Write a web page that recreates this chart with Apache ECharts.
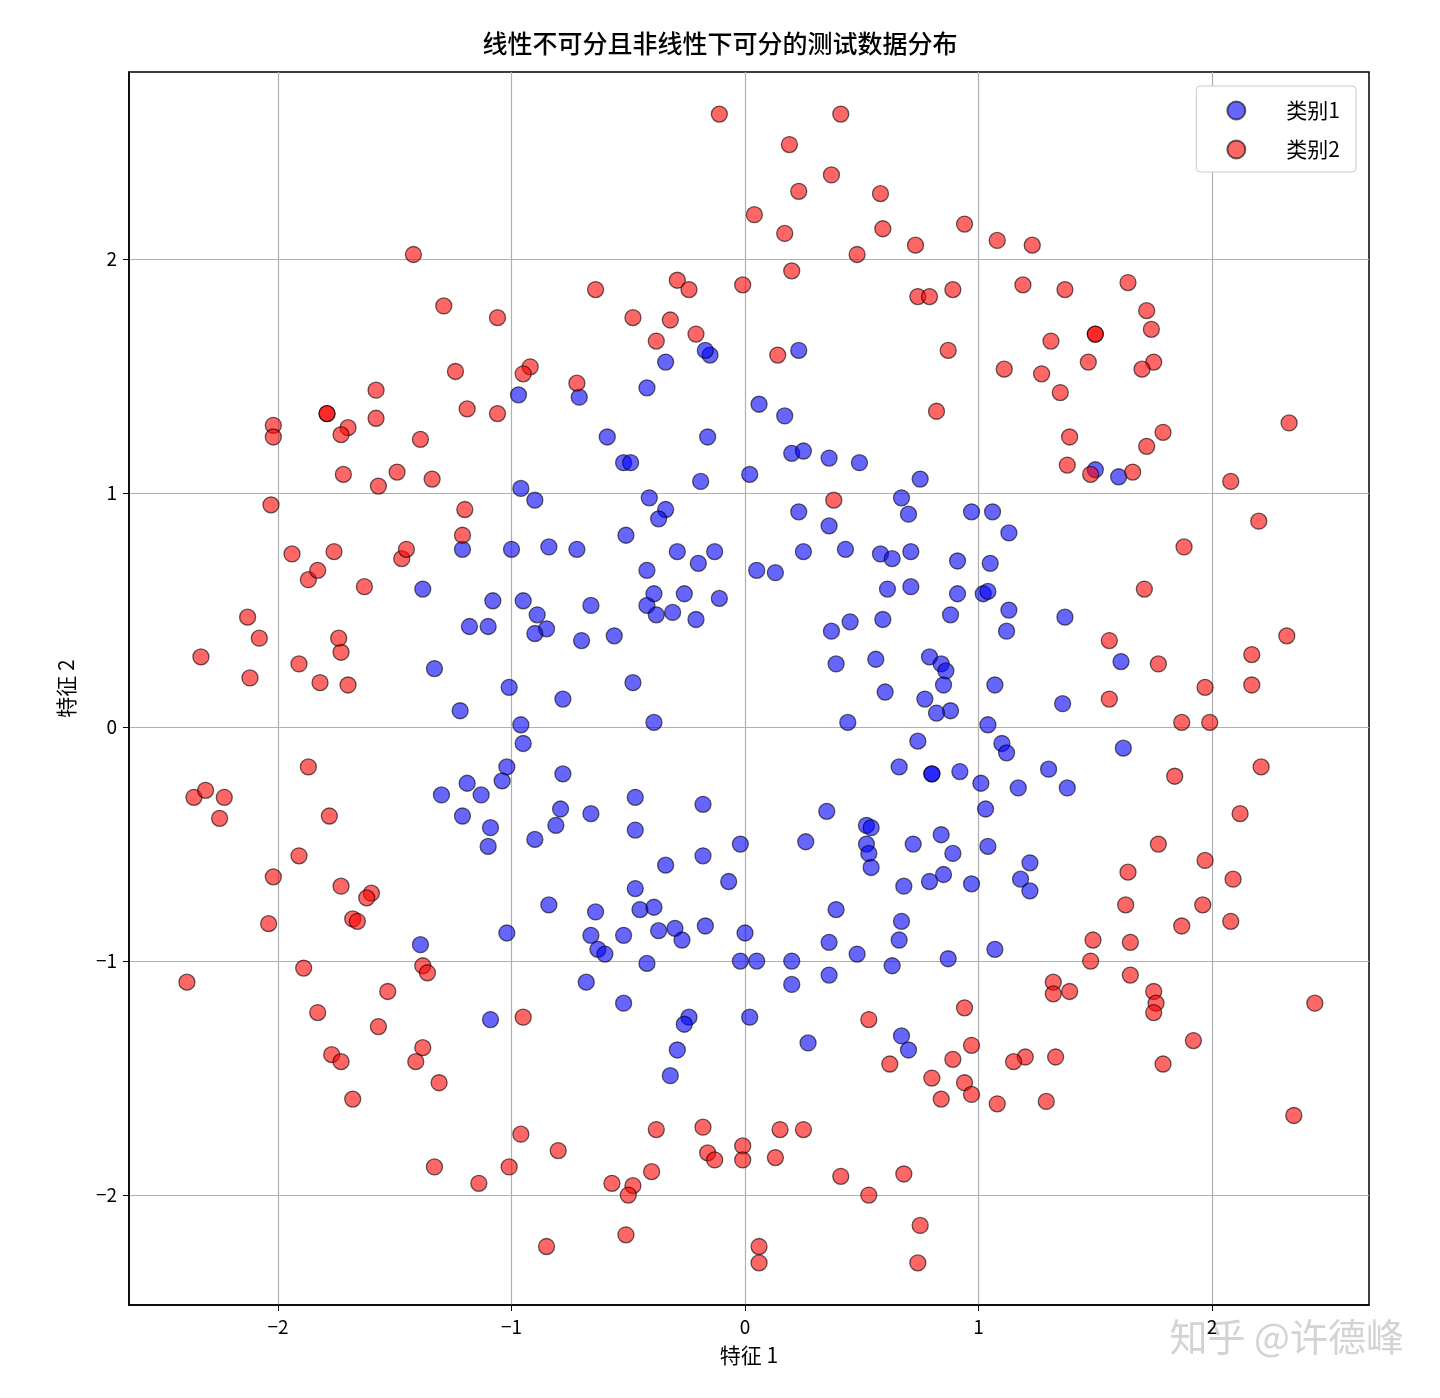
<!DOCTYPE html>
<html><head><meta charset="utf-8">
<script src="https://cdn.jsdelivr.net/npm/echarts@6/dist/echarts.min.js"></script>
<style>html,body{margin:0;padding:0;background:#fff}#c{width:1440px;height:1398px}</style>
</head><body><div id="c"></div>
<script>
const title = '线性不可分且非线性下可分的测试数据分布';
const xName = '特征 1', yName = '特征 2';
const seriesNames = ['类别1', '类别2'];
const tickValues = [-2, -1, 0, 1, 2];
const class1 = [
[-0.15,1.59],[-0.17,1.61],[0.23,1.61],[-0.34,1.56],[-0.42,1.45],[-0.71,1.41],[-0.97,1.42],[0.06,1.38],[0.17,1.33],[-0.59,1.24],
[-0.16,1.24],[0.20,1.17],[0.25,1.18],[0.36,1.15],[0.49,1.13],[-0.52,1.13],[-0.49,1.13],[0.02,1.08],[-0.19,1.05],[0.75,1.06],
[1.50,1.10],[1.60,1.07],[-0.96,1.02],[-0.90,0.97],[-0.41,0.98],[-0.34,0.93],[-0.37,0.89],[0.67,0.98],[0.70,0.91],[0.23,0.92],
[0.36,0.86],[0.97,0.92],[1.06,0.92],[1.13,0.83],[-0.51,0.82],[-1.21,0.76],[-1.00,0.76],[-0.84,0.77],[-0.72,0.76],[-0.29,0.75],
[-0.13,0.75],[0.25,0.75],[0.43,0.76],[0.58,0.74],[0.63,0.72],[0.71,0.75],[0.91,0.71],[1.05,0.70],[-0.20,0.70],[0.05,0.67],
[0.13,0.66],[-0.42,0.67],[-1.38,0.59],[-1.08,0.54],[-0.95,0.54],[-0.39,0.57],[-0.26,0.57],[-0.11,0.55],[-0.66,0.52],[-0.42,0.52],
[-0.38,0.48],[-0.31,0.49],[-0.89,0.48],[0.61,0.59],[0.71,0.60],[0.91,0.57],[1.02,0.57],[1.04,0.58],[1.13,0.50],[0.88,0.48],
[-0.21,0.46],[1.37,0.47],[0.45,0.45],[0.59,0.46],[-1.18,0.43],[-1.10,0.43],[-0.85,0.42],[-0.90,0.40],[-0.56,0.39],[-0.70,0.37],
[1.12,0.41],[0.37,0.41],[0.39,0.27],[0.56,0.29],[0.79,0.30],[0.84,0.27],[0.86,0.24],[1.61,0.28],[-1.33,0.25],[-0.48,0.19],
[-1.01,0.17],[0.60,0.15],[0.77,0.12],[0.85,0.18],[1.07,0.18],[-0.78,0.12],[1.36,0.10],[-1.22,0.07],[0.88,0.07],[0.82,0.06],
[-0.39,0.02],[0.44,0.02],[-0.96,0.01],[1.04,0.01],[-0.95,-0.07],[0.74,-0.06],[1.10,-0.07],[1.12,-0.11],[1.62,-0.09],[-1.02,-0.17],
[0.66,-0.17],[0.80,-0.20],[0.80,-0.20],[0.92,-0.19],[1.30,-0.18],[-0.78,-0.20],[-1.19,-0.24],[-1.04,-0.23],[-1.13,-0.29],[1.01,-0.24],
[1.17,-0.26],[1.38,-0.26],[-1.30,-0.29],[-0.47,-0.30],[-0.18,-0.33],[-0.79,-0.35],[1.03,-0.35],[-1.21,-0.38],[-0.66,-0.37],[0.35,-0.36],
[-0.81,-0.42],[-1.09,-0.43],[0.52,-0.42],[0.54,-0.43],[-0.47,-0.44],[0.84,-0.46],[-0.90,-0.48],[0.52,-0.50],[-1.10,-0.51],[-0.02,-0.50],
[0.26,-0.49],[0.72,-0.50],[1.04,-0.51],[0.53,-0.54],[0.89,-0.54],[-0.18,-0.55],[1.22,-0.58],[-0.34,-0.59],[0.54,-0.60],[0.85,-0.63],
[1.18,-0.65],[0.79,-0.66],[-0.07,-0.66],[0.68,-0.68],[0.97,-0.67],[1.22,-0.70],[-0.47,-0.69],[-0.84,-0.76],[-0.45,-0.78],[-0.39,-0.77],
[0.39,-0.78],[-0.64,-0.79],[0.67,-0.83],[-0.37,-0.87],[-0.30,-0.86],[-0.17,-0.85],[-1.02,-0.88],[0.00,-0.88],[-0.66,-0.89],[-0.52,-0.89],
[-0.27,-0.91],[0.36,-0.92],[0.66,-0.91],[-1.39,-0.93],[-0.63,-0.95],[-0.60,-0.97],[0.48,-0.97],[-0.02,-1.00],[0.05,-1.00],[0.87,-0.99],
[1.07,-0.95],[-0.42,-1.01],[0.20,-1.00],[0.63,-1.02],[0.36,-1.06],[-0.68,-1.09],[0.20,-1.10],[-0.52,-1.18],[0.02,-1.24],[-1.09,-1.25],
[-0.24,-1.24],[-0.26,-1.27],[0.67,-1.32],[0.27,-1.35],[-0.29,-1.38],[0.70,-1.38],[-0.32,-1.49]
];
const class2 = [
[-0.11,2.62],[0.41,2.62],[0.19,2.49],[0.37,2.36],[0.58,2.28],[0.23,2.29],[0.04,2.19],[0.17,2.11],[0.59,2.13],[0.94,2.15],
[0.73,2.06],[1.08,2.08],[1.23,2.06],[0.48,2.02],[0.20,1.95],[-0.01,1.89],[-0.29,1.91],[-0.24,1.87],[-0.64,1.87],[0.74,1.84],
[0.79,1.84],[0.89,1.87],[1.19,1.89],[1.37,1.87],[1.64,1.90],[1.72,1.78],[1.74,1.70],[1.50,1.68],[1.50,1.68],[1.31,1.65],[1.47,1.56],
[1.75,1.56],[1.70,1.53],[1.27,1.51],[1.11,1.53],[1.35,1.43],[0.87,1.61],[0.14,1.59],[-0.21,1.68],[-0.32,1.74],[-0.48,1.75],
[-0.38,1.65],[-1.06,1.75],[-1.29,1.80],[-1.42,2.02],[-0.92,1.54],[-0.95,1.51],[-0.72,1.47],[-1.24,1.52],[-1.58,1.44],[-1.79,1.34],[-1.79,1.34],
[-1.19,1.36],[-1.06,1.34],[-1.58,1.32],[-1.70,1.28],[-1.73,1.25],[-2.02,1.29],[-2.02,1.24],[-1.39,1.23],[0.82,1.35],[1.39,1.24],
[1.79,1.26],[1.72,1.20],[1.38,1.12],[1.48,1.08],[1.66,1.09],[0.38,0.97],[2.08,1.05],[2.20,0.88],[1.88,0.77],[1.71,0.59],
[1.56,0.37],[1.77,0.27],[2.17,0.31],[2.32,0.39],[2.33,1.30],[2.17,0.18],[1.97,0.17],[1.56,0.12],[1.87,0.02],[1.99,0.02],
[2.21,-0.17],[1.84,-0.21],[2.12,-0.37],[1.77,-0.50],[1.97,-0.57],[1.64,-0.62],[2.09,-0.65],[1.63,-0.76],[1.96,-0.76],[2.08,-0.83],
[1.87,-0.85],[1.65,-0.92],[1.49,-0.91],[1.48,-1.00],[1.65,-1.06],[1.32,-1.09],[1.32,-1.14],[1.39,-1.13],[1.75,-1.13],[1.76,-1.18],
[1.75,-1.22],[2.44,-1.18],[1.92,-1.34],[1.33,-1.41],[1.20,-1.41],[1.15,-1.43],[1.79,-1.44],[2.35,-1.66],[0.94,-1.20],[0.97,-1.36],
[0.89,-1.42],[0.94,-1.52],[0.97,-1.57],[0.80,-1.50],[0.84,-1.59],[1.08,-1.61],[1.29,-1.60],[0.53,-1.25],[0.62,-1.44],[0.68,-1.91],
[0.75,-2.13],[0.74,-2.29],[0.41,-1.92],[0.53,-2.00],[0.15,-1.72],[0.25,-1.72],[0.13,-1.84],[-0.01,-1.79],[-0.01,-1.85],[0.06,-2.22],
[0.06,-2.29],[-0.18,-1.71],[-0.16,-1.82],[-0.13,-1.85],[-0.38,-1.72],[-0.40,-1.90],[-0.57,-1.95],[-0.48,-1.96],[-0.50,-2.00],[-0.51,-2.17],
[-0.80,-1.81],[-0.85,-2.22],[-0.96,-1.74],[-1.01,-1.88],[-1.14,-1.95],[-1.33,-1.88],[-0.95,-1.24],[-1.31,-1.52],[-1.38,-1.37],[-1.41,-1.43],
[-1.38,-1.02],[-1.36,-1.05],[-1.53,-1.13],[-1.57,-1.28],[-1.83,-1.22],[-1.77,-1.40],[-1.73,-1.43],[-1.68,-1.59],[-1.89,-1.03],[-2.39,-1.09],
[-2.04,-0.84],[-2.02,-0.64],[-1.91,-0.55],[-1.73,-0.68],[-1.60,-0.71],[-1.62,-0.73],[-1.68,-0.82],[-1.66,-0.83],[-1.78,-0.38],[-1.87,-0.17],
[-2.36,-0.30],[-2.31,-0.27],[-2.23,-0.30],[-2.25,-0.39],[-2.33,0.30],[-2.12,0.21],[-1.91,0.27],[-1.82,0.19],[-1.70,0.18],[-1.73,0.32],
[-1.74,0.38],[-2.08,0.38],[-2.13,0.47],[-1.94,0.74],[-1.87,0.63],[-1.83,0.67],[-1.76,0.75],[-1.63,0.60],[-1.47,0.72],[-1.45,0.76],
[-2.03,0.95],[-1.72,1.08],[-1.57,1.03],[-1.49,1.09],[-1.34,1.06],[-1.20,0.93],[-1.21,0.82]
];
const F = '"Noto Sans CJK SC", sans-serif';
function axis(min, max, name, isY) {
  return {
    type: 'value', min: min, max: max, name: name,
    nameLocation: 'middle', nameGap: isY ? 52 : 40,
    nameTextStyle: { fontFamily: F, fontSize: 21, color: '#000' },
    axisLine: { onZero: false, lineStyle: { color: '#000', width: 1.5 } },
    axisTick: { show: true, length: 6, inside: false, customValues: tickValues, lineStyle: { color: '#000' } },
    axisLabel: { customValues: tickValues, fontFamily: F, fontSize: 19, color: '#000', margin: 12,
      formatter: v => (v < 0 ? '−' + Math.abs(v) : String(v)) },
    splitLine: { show: true, lineStyle: { color: '#b0b0b0', width: 1.2 } }
  };
}
const chart = echarts.init(document.getElementById('c'));
const mk = (name, data, color) => ({
  name, type: 'scatter', data, symbolSize: 16,
  itemStyle: { color, opacity: 0.6, borderColor: '#000', borderWidth: 1.3 }
});
chart.setOption({
  animation: false,
  title: { text: title, left: 'center', top: 26, textStyle: { fontFamily: F, fontSize: 25, fontWeight: 500, color: '#000' } },
  grid: { left: 129, top: 72, width: 1240, height: 1233, show: true, borderColor: '#000', borderWidth: 1.5 },
  xAxis: axis(-2.638, 2.672, xName, false),
  yAxis: axis(-2.47, 2.80, yName, true),
  legend: { orient: 'vertical', right: 84, top: 86, itemGap: 18, padding: [14, 16, 12, 30],
    borderColor: '#ccc', borderWidth: 1, borderRadius: 4, backgroundColor: '#fff',
    itemWidth: 18, itemHeight: 18, textStyle: { fontFamily: F, fontSize: 21, color: '#000', padding: [0,0,0,36] },
    data: seriesNames.map(n => ({ name: n, icon: 'circle' })) },
  graphic: [{ type: 'text', right: 36, bottom: 42, style: { text: '知乎 @许德峰', fontFamily: F, fontSize: 38, fill: 'rgba(200,200,200,0.8)' } }],
  series: [mk(seriesNames[0], class1, '#0000ff'), mk(seriesNames[1], class2, '#ff0000')]
});
</script></body></html>
